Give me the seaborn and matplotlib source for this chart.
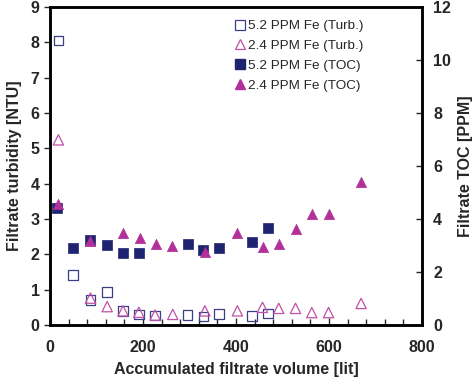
import matplotlib
matplotlib.use("Agg")
import matplotlib.pyplot as plt
import seaborn as sns
from matplotlib.lines import Line2D
from matplotlib.ticker import MultipleLocator

sns.set_style("ticks")
plt.rcParams["font.family"] = ["Liberation Sans", "DejaVu Sans"]

# turbidity, 5.2 ppm Fe (open squares, left axis)
turb52_vol = [18, 50, 87, 122, 157, 191, 226, 296, 330, 364, 434, 469]
turb52_val = [8.05, 1.41, 0.71, 0.94, 0.40, 0.30, 0.27, 0.28, 0.24, 0.31, 0.26, 0.33]

# turbidity, 2.4 ppm Fe (open triangles, left axis)
turb24_vol = [18, 87, 123, 157, 191, 226, 264, 333, 403, 457, 492, 528, 563, 599, 669]
turb24_val = [5.24, 0.76, 0.52, 0.40, 0.36, 0.28, 0.30, 0.40, 0.40, 0.50, 0.47, 0.47, 0.35, 0.35, 0.61]

# TOC, 5.2 ppm Fe (filled squares, right axis)
toc52_vol = [16, 50, 87, 122, 157, 191, 296, 330, 364, 434, 469]
toc52_val = [4.40, 2.91, 3.20, 3.02, 2.73, 2.71, 3.05, 2.83, 2.92, 3.14, 3.67]

# TOC, 2.4 ppm Fe (filled triangles, right axis)
toc24_vol = [18, 87, 158, 193, 228, 263, 333, 403, 457, 492, 528, 563, 599, 669]
toc24_val = [4.57, 3.17, 3.46, 3.29, 3.04, 2.99, 2.74, 3.46, 2.95, 3.04, 3.61, 4.18, 4.18, 5.38]

labels = ["5.2 PPM Fe (Turb.)", "2.4 PPM Fe (Turb.)", "5.2 PPM Fe (TOC)", "2.4 PPM Fe (TOC)"]
navy = "#1f2470"
navy_open = "#3b3f85"
magenta = "#b2309a"
magenta_open = "#c050a8"

fig = plt.figure(figsize=(4.74, 3.83), dpi=100)
ax = fig.add_axes([50 / 474, 1 - 325 / 383, 372 / 474, 318 / 383])
ax2 = ax.twinx()

sns.scatterplot(x=turb52_vol, y=turb52_val, ax=ax, marker="s", s=48,
                facecolor="none", edgecolor=navy_open, linewidth=0.9)
sns.scatterplot(x=turb24_vol, y=turb24_val, ax=ax, marker="^", s=55,
                facecolor="none", edgecolor=magenta_open, linewidth=0.9)
sns.scatterplot(x=toc52_vol, y=toc52_val, ax=ax2, marker="s", s=48,
                color=navy, edgecolor=navy, linewidth=0.5)
sns.scatterplot(x=toc24_vol, y=toc24_val, ax=ax2, marker="^", s=55,
                color=magenta, edgecolor=magenta, linewidth=0.5)

ax.set_xlim(0, 800)
ax.set_ylim(0, 9)
ax2.set_ylim(0, 12)
ax.xaxis.set_major_locator(MultipleLocator(200))
ax.xaxis.set_minor_locator(MultipleLocator(40))
ax.yaxis.set_major_locator(MultipleLocator(1))
ax2.yaxis.set_major_locator(MultipleLocator(2))

for a in (ax, ax2):
    for sp in a.spines.values():
        sp.set_visible(True)
        sp.set_linewidth(1.8)
        sp.set_color("black")
ax.tick_params(axis="x", which="both", direction="in", length=5, width=1, pad=11)
ax.tick_params(axis="x", which="minor", length=4)
ax.tick_params(axis="y", direction="out", length=4, width=1)
ax2.tick_params(axis="y", direction="in", length=4, width=1, pad=8)
for lab in ax.get_xticklabels() + ax.get_yticklabels() + ax2.get_yticklabels():
    lab.set_fontweight("bold")
    lab.set_fontsize(11.5)

ax.set_xlabel("Accumulated filtrate volume [lit]", fontsize=11.5, fontweight="bold", labelpad=5)
ax.set_ylabel("Filtrate turbidity [NTU]", fontsize=11.5, fontweight="bold", labelpad=6)
ax2.set_ylabel("Filtrate TOC [PPM]", fontsize=11.5, fontweight="bold", labelpad=5)

handles = [
    Line2D([], [], ls="none", marker="s", ms=7, mfc="none", mec=navy_open, mew=0.9),
    Line2D([], [], ls="none", marker="^", ms=7.5, mfc="none", mec=magenta_open, mew=0.9),
    Line2D([], [], ls="none", marker="s", ms=7, mfc=navy, mec=navy),
    Line2D([], [], ls="none", marker="^", ms=7.5, mfc=magenta, mec=magenta),
]
ax2.legend(handles, labels, loc="upper left", bbox_to_anchor=(0.47, 0.985), frameon=False,
           fontsize=9.7, handletextpad=0.1, labelspacing=0.55, handlelength=1.0,
           borderaxespad=0.2)

fig.savefig("out.png", dpi=100)
